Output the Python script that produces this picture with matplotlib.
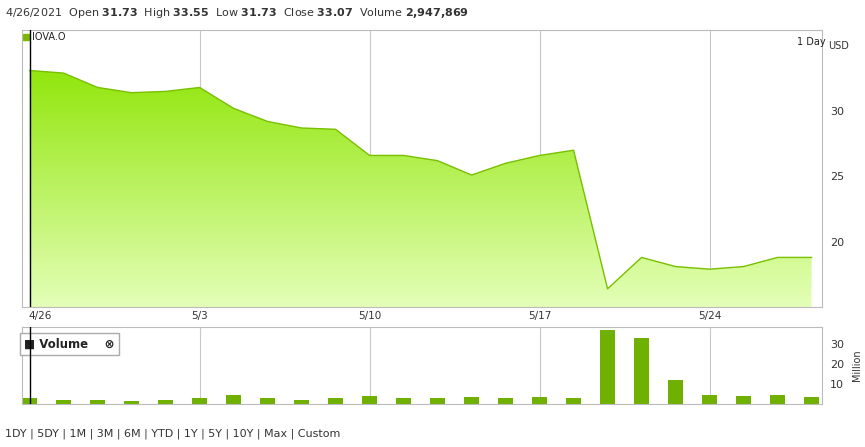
import matplotlib
matplotlib.use("Agg")
import matplotlib.pyplot as plt
import numpy as np
from matplotlib.patches import Polygon
from matplotlib.colors import LinearSegmentedColormap

dates = ["4/26","4/27","4/28","4/29","4/30","5/3","5/4","5/5","5/6","5/7",
         "5/10","5/11","5/12","5/13","5/14","5/17","5/18","5/19","5/20","5/21",
         "5/24","5/25","5/26","5/27"]
close = [33.1,32.9,31.8,31.4,31.5,31.8,30.2,29.2,28.7,28.6,
         26.6,26.6,26.2,25.1,26.0,26.6,27.0,16.4,18.8,18.1,
         17.9,18.1,18.8,18.8]
volume = [2.9,1.8,2.2,1.7,1.8,2.8,4.5,3.0,2.2,3.2,
          4.0,3.0,3.0,3.5,2.8,3.5,3.0,37,33,12,
          4.5,4.0,4.5,3.5]
week_labels = ["4/26","5/3","5/10","5/17","5/24"]
price_ticks = [20,25,30]
vol_ticks = [10,20,30]

x = np.arange(len(close))
wk = [dates.index(d) for d in week_labels]
fig = plt.figure(figsize=(8.65,4.47), dpi=100)
xl = (-0.235, 23.3)
gc = "#c8c8c8"

ax = fig.add_axes([0.025,0.313,0.925,0.62])
ymin, ymax = 15.0, 36.2
ax.set_xlim(*xl); ax.set_ylim(ymin, ymax)
grad = np.linspace(0,1,256).reshape(-1,1)
cmap = LinearSegmentedColormap.from_list("g", ["#e4ffb8","#92e60c"])
im = ax.imshow(grad, cmap=cmap, aspect="auto", origin="lower",
               extent=[xl[0], xl[1], ymin, max(close)], zorder=1)
poly = Polygon(np.column_stack([np.r_[x[0],x,x[-1]], np.r_[ymin,close,ymin]]),
               closed=True, transform=ax.transData, facecolor="none", edgecolor="none")
ax.add_patch(poly); im.set_clip_path(poly)
ax.plot(x, close, color="#78c000", lw=1, zorder=3)
for i in wk[1:]:
    ax.axvline(i, color=gc, lw=0.8, zorder=0.5)
ax.axvline(0, color="black", lw=1, zorder=4)
ax.set_xticks([])
ax.yaxis.tick_right()
ax.set_yticks(price_ticks)
ax.tick_params(axis="y", length=0, labelsize=8, colors="#333333", pad=6)
for s in ax.spines.values(): s.set_color("#bbbbbb")
for i, d in zip(wk, week_labels):
    ax.text(i + (0.3 if i == 0 else 0), ymin-0.3, d, ha="center", va="top", fontsize=7.5, color="#333333")
ax.text(1.008, 0.93, "USD", transform=ax.transAxes, fontsize=7, ha="left", color="#333333")
ax.text(1.005, 0.975, "1 Day", transform=ax.transAxes, fontsize=7, ha="right", va="top", color="#222222")
ax.plot([0.005],[0.975], marker="s", ms=5, color="#7ab800", transform=ax.transAxes, clip_on=False)
ax.text(0.013, 0.975, "IOVA.O", transform=ax.transAxes, fontsize=7, va="center", color="#222222")

av = fig.add_axes([0.025,0.096,0.925,0.172])
av.set_xlim(*xl); av.set_ylim(0, 38.5)
av.bar(x, volume, width=0.42, color="#6fb000", zorder=2)
for i in wk[1:]:
    av.axvline(i, color=gc, lw=0.8, zorder=0.5)
av.axvline(0, color="black", lw=1, zorder=4)
av.set_xticks([])
av.yaxis.tick_right()
av.set_yticks(vol_ticks)
av.tick_params(axis="y", length=0, labelsize=8, colors="#333333", pad=6)
for s in av.spines.values(): s.set_color("#bbbbbb")
av.text(1.038, 0.5, "Million", transform=av.transAxes, rotation=90, fontsize=7, va="center", color="#333333")
av.text(0.003, 0.78, "\u25A0 Volume    \u2297", transform=av.transAxes, fontsize=8.5, fontweight="bold",
        va="center", color="#222222", bbox=dict(boxstyle="square,pad=0.35", fc="white", ec="#aaaaaa"))

fig.text(0.006, 0.972, "4/26/2021  Open $\\bf{31.73}$  High $\\bf{33.55}$  Low $\\bf{31.73}$  Close $\\bf{33.07}$  Volume $\\bf{2{,}947{,}869}$",
         fontsize=8, color="#333333", va="center")
fig.text(0.006, 0.03, "1DY | 5DY | 1M | 3M | 6M | YTD | 1Y | 5Y | 10Y | Max | Custom",
         fontsize=8, color="#333333", va="center")
fig.savefig("out.png", dpi=100)
